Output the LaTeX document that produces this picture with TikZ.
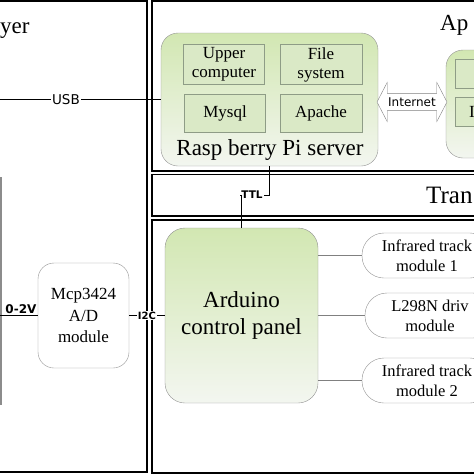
\documentclass[tikz,border=0pt]{standalone}
\usepackage{fontspec}
\setmainfont{Liberation Serif}
\newfontfamily\sansfnt{DejaVu Sans}
\usetikzlibrary{shapes.arrows}
\definecolor{boxtop}{HTML}{D2E7B2}
\definecolor{boxbot}{HTML}{F3F6F0}
\definecolor{innerfill}{HTML}{DAE9C6}
\definecolor{innerline}{HTML}{8E9C86}

\begin{document}
\begin{tikzpicture}[x=1pt,y=-1pt,
	panel/.style={draw, line width=1.8pt},
	green box/.style={draw=gray!85, rounded corners=17pt, top color=boxtop, bottom color=boxbot},
	inner box/.style={draw=innerline, fill=innerfill, minimum height=40pt, align=center, inner sep=0pt, font=\fontsize{17}{19}\selectfont},
	white box/.style={draw=gray!85, fill=white, rounded corners=16pt, align=center, font=\fontsize{17}{21.5}\selectfont},
	module box/.style={draw=gray!85, fill=white, rounded corners=22pt, minimum width=130pt, minimum height=45pt, align=center, inner sep=0pt, font=\fontsize{16.5}{20}\selectfont},
	title/.style={anchor=base west, inner sep=0pt}]
			\useasboundingbox (0,0) rectangle (474,474);
			\clip (0,0) rectangle (474,474);
			
			% Panels
			\draw[panel] (-10,1) rectangle (147,472);
			\draw[panel] (152,1) rectangle (490,171);
			\draw[panel] (152,174.5) rectangle (490,216);
			\draw[panel] (152,220) rectangle (490,473);
			\draw[gray!90, line width=2pt] (1,177) -- (1,405);
			
			\node[title, font=\fontsize{23}{27}\selectfont] (20) at (0,33) {yer};
			\node[title, font=\fontsize{23}{27}\selectfont] (21) at (440,30) {Ap};
			\node[title, font=\fontsize{25}{29}\selectfont] (22) at (426,203) {Tran};
			
			% Nodes
			\node[green box, minimum width=217pt, minimum height=133pt] (1) at (269.5,99.5) {};
			\node[inner box, minimum width=81pt] (2) at (224,64.5) {Upper\\computer};
			\node[inner box, minimum width=82pt] (3) at (321,64.5) {File\\system};
			\node[inner box, minimum width=81pt, minimum height=38pt] (4) at (225,113) {Mysql};
			\node[inner box, minimum width=82pt, minimum height=38pt] (5) at (321,113) {Apache};
			\node[font=\fontsize{23}{27}\selectfont, inner sep=0pt] (15) at (270,150) {Rasp berry Pi server};
			
			\node[green box, minimum width=100pt, minimum height=108pt] (11) at (496,104) {};
			\node[inner box, minimum width=34pt, minimum height=29pt] (12) at (472,73.5) {};
			\node[inner box, minimum width=34pt, minimum height=29pt] (13) at (472,111.5) {I};
			
			\node[double arrow, draw=gray, fill=white, double arrow head extend=11pt, double arrow tip angle=125,
			minimum height=70pt, inner xsep=0pt, inner ysep=4pt, font=\sansfnt\fontsize{12}{14}\selectfont] (14) at (412,102) {Internet};
			
			\node[green box, rounded corners=20pt, minimum width=153pt, minimum height=175pt, align=center,
			font=\fontsize{23}{27.5}\selectfont] (6) at (241.5,315.5) {Arduino\\control panel};
			\node[white box, minimum width=91pt, minimum height=105pt] (7) at (83.5,315.5) {Mcp3424\\A/D\\module};
			
			\node[module box] (8) at (427,255.5) {Infrared track\\module 1};
			\node[module box] (9) at (430,315.5) {L298N driv\\module};
			\node[module box] (10) at (427,380.5) {Infrared track\\module 2};
			
			\coordinate (usb) at (0,99.5);
			\coordinate (vin) at (0,315.5);
			\node[font=\sansfnt\bfseries\fontsize{10.5}{12}\selectfont, fill=white, inner sep=1pt] (ttl) at (252,195) {TTL};
			
			\path[every node/.style={font=\sansfnt\fontsize{13.5}{15}\selectfont, fill=white, inner sep=1pt}]
			(usb)
			edge[line width=0.8pt] node[pos=0.41] {USB} (1)
			
			(vin)
			edge[line width=0.8pt] node[pos=1, anchor=south east, fill=none, font=\sansfnt\bfseries\fontsize{12}{14}\selectfont] {0-2V} (7)
			
			(7)
			edge[line width=0.8pt] node[font=\sansfnt\bfseries\fontsize{10}{12}\selectfont] {I2C} (6)
			
			(6.east |- 8.west) edge[gray, line width=0.9pt] (8.west)
			(6.east |- 9.west) edge[gray, line width=0.9pt] (9.west)
			(6.east |- 10.west) edge[gray, line width=0.9pt] (10.west);
			
			\draw[line width=0.8pt] (1.south) |- (ttl.east);
			\draw[line width=0.8pt] (ttl.west) -| (6.north);
			
		\end{tikzpicture}
\end{document}
